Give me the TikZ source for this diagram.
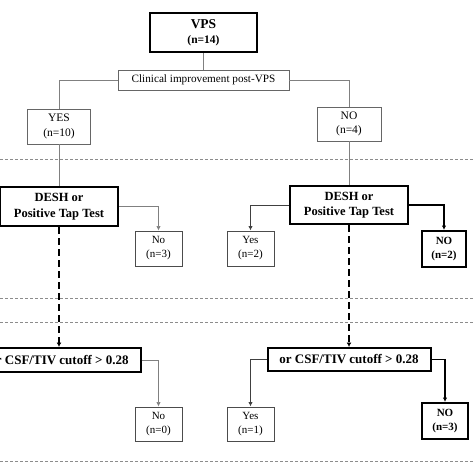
\documentclass[tikz,border=0pt]{standalone}
\usepackage{fontspec}
\setmainfont{Liberation Serif}
\usetikzlibrary{arrows.meta}

\tikzset{
  thinbox/.style={draw=gray!80!black, line width=0.7pt, inner sep=0pt, align=center},
  boldbox/.style={draw=black, line width=2pt, inner sep=0pt, align=center, font=\bfseries},
  smallbox/.style={draw=black!70, line width=1pt, inner sep=0pt, align=center,
    minimum width=47pt, minimum height=35pt, font=\fontsize{11}{14}\selectfont},
  thinline/.style={draw=gray, line width=0.7pt},
  midline/.style={draw=black!75, line width=1pt, -{Latex[length=4.5pt,width=4.5pt]}},
  thickline/.style={draw=black, line width=1.8pt, -{Latex[length=4.5pt,width=4.5pt]}},
  dashline/.style={draw=black, line width=2.2pt, dash pattern=on 7pt off 4pt, -{Latex[length=4.5pt,width=5pt]}},
  sepline/.style={draw=gray!90, line width=0.7pt, dash pattern=on 3pt off 2pt}
}

\begin{document}
\begin{tikzpicture}[x=1pt, y=-1pt]
  \useasboundingbox (0,0) rectangle (474,474);

  %separators
  \foreach \yy in {159,298,322,461}
    \draw[sepline] (0,\yy) -- (474,\yy);

  %top part
  \node[boldbox, minimum width=107pt, minimum height=39pt] (vps) at (203.5,32.5)
    {{\fontsize{13.5}{15}\selectfont VPS}\\[3pt]{\fontsize{11.5}{13}\selectfont (n=14)}};
  \node[thinbox, minimum width=171pt, minimum height=20pt, font=\fontsize{11.2}{13}\selectfont] (clin) at (203.5,80)
    {Clinical improvement post-VPS};
  \node[thinbox, minimum width=63pt, minimum height=35pt, font=\fontsize{11.5}{14.5}\selectfont] (yes) at (59,126.5)
    {YES\\(n=10)};
  \node[thinbox, minimum width=64pt, minimum height=34pt, font=\fontsize{11.5}{14.5}\selectfont] (no) at (349,124)
    {NO\\(n=4)};

  \draw[thinline] (vps) -- (clin);
  \draw[thinline] (clin.west) -| (yes.north);
  \draw[thinline] (clin.east) -| (no.north);

  %DESH or tap test
  \node[boldbox, minimum width=118pt, minimum height=39pt, font=\bfseries\fontsize{12.5}{15.5}\selectfont] (deshL) at (59,206.5)
    {DESH or\\Positive Tap Test};
  \node[boldbox, minimum width=118pt, minimum height=38pt, font=\bfseries\fontsize{12.5}{15.5}\selectfont] (deshR) at (349,205)
    {DESH or\\Positive Tap Test};
  \draw[thinline] (yes) -- (deshL);
  \draw[thinline] (no) -- (deshR);

  \node[smallbox] (noA) at (158.5,248.5) {No\\(n=3)};
  \node[smallbox] (yesA) at (250.5,248.5) {Yes\\(n=2)};
  \node[boldbox, minimum width=44pt, minimum height=36pt, font=\bfseries\fontsize{11}{14}\selectfont] (noB) at (444,249) {NO\\(n=2)};

  \draw[thinline, -{Latex[length=4.5pt,width=4.5pt]}] (deshL.east) -| (noA.north);
  \draw[midline] (deshR.west) -| (yesA.north);
  \draw[thickline] (deshR.east) -| (noB.north);

  %CSF/TIV
  \node[boldbox, minimum width=163pt, minimum height=24pt, font=\bfseries\fontsize{13}{15}\selectfont] (csfL) at (59,360)
    {or CSF/TIV cutoff > 0.28};
  \node[boldbox, minimum width=163pt, minimum height=23pt, font=\bfseries\fontsize{13}{15}\selectfont] (csfR) at (349,359.5)
    {or CSF/TIV cutoff > 0.28};
  \draw[dashline] (deshL) -- (csfL);
  \draw[dashline] (deshR) -- (csfR);

  \node[smallbox, minimum height=34pt] (noC) at (158.5,424) {No\\(n=0)};
  \node[smallbox, minimum height=34pt] (yesC) at (250.5,424) {Yes\\(n=1)};
  \node[boldbox, minimum width=46pt, minimum height=36pt, font=\bfseries\fontsize{11}{14}\selectfont] (noD) at (445,421) {NO\\(n=3)};

  \draw[thinline, -{Latex[length=4.5pt,width=4.5pt]}] (csfL.east) -| (noC.north);
  \draw[midline] (csfR.west) -| (yesC.north);
  \draw[thickline] (csfR.east) -| (noD.north);
\end{tikzpicture}
\end{document}
